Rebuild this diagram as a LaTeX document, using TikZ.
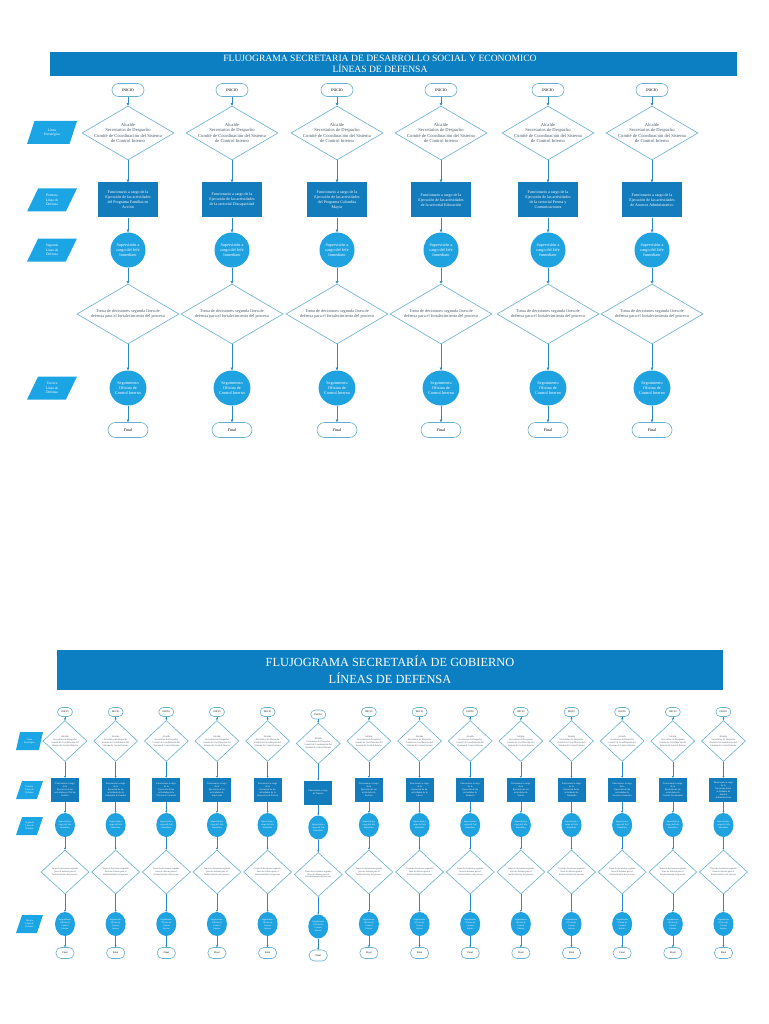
\documentclass[tikz,border=0pt]{standalone}
\usepackage{fontspec}
\setmainfont{Liberation Serif}
\usetikzlibrary{shapes.geometric,arrows.meta}
\definecolor{barblue}{HTML}{0B7FC1}
\definecolor{boxblue}{HTML}{137CBC}
\definecolor{circblue}{HTML}{1FA2E0}
\definecolor{lineblue}{HTML}{66AFD0}
\definecolor{arrblue}{HTML}{2A8AC6}
\definecolor{paralblue}{HTML}{1CA5E5}
\definecolor{diatextcol}{HTML}{4A5A66}
\tikzset{
  titlebar/.style={fill=barblue, draw=none, inner sep=0pt},
  titletext/.style={text=white, align=center, inner sep=0pt},
  startbox/.style={draw=lineblue, line width=0.6pt, fill=white, inner sep=0pt, align=center},
  diabox/.style={diamond, draw=lineblue, line width=0.6pt, fill=white, inner sep=0pt},
  diatext/.style={align=center, inner sep=0pt, text=diatextcol},
  taskbox/.style={rectangle, fill=boxblue, text=white, inner sep=0.5pt, align=center},
  supbox/.style={ellipse, fill=circblue, text=white, inner sep=0pt, align=center},
  sidelabel/.style={trapezium, trapezium left angle=66, trapezium right angle=114, trapezium stretches=true, fill=paralblue, text=white, inner sep=0pt, align=center},
  flow/.style={draw=arrblue, line width=0.5pt, -{Triangle[length=2.6pt,width=2.6pt]}},
  flowsm/.style={draw=arrblue, line width=0.4pt, -{Triangle[length=1.8pt,width=1.8pt]}}
}
\begin{document}
\begin{tikzpicture}[x=1pt,y=-1pt]
\useasboundingbox (0,0) rectangle (768,1024);
\fill[white] (0,0) rectangle (768,1024);

% ================= TOP PANEL =================
\node[titlebar, minimum width=687pt, minimum height=24pt] (bar1) at (393.5,64) {};
\node[titletext, font=\fontsize{9.6}{11.5}\selectfont] (title1) at (380,64)
  {FLUJOGRAMA SECRETARIA DE DESARROLLO SOCIAL Y ECONOMICO\\LÍNEAS DE DEFENSA};

\node[sidelabel, minimum width=50pt, minimum height=23pt, font=\fontsize{3.6}{4.4}\selectfont] (tl1) at (52,132.5) {Línea\\Estratégica};
\node[sidelabel, minimum width=50pt, minimum height=23pt, font=\fontsize{3.6}{4.4}\selectfont] (tl2) at (52,200) {Primera\\Línea de\\Defensa};
\node[sidelabel, minimum width=50pt, minimum height=23pt, font=\fontsize{3.6}{4.4}\selectfont] (tl3) at (52,250) {Segunda\\Línea de\\Defensa};
\node[sidelabel, minimum width=50pt, minimum height=23pt, font=\fontsize{3.6}{4.4}\selectfont] (tl4) at (52,388) {Tercera\\Línea de\\Defensa};

\foreach \x/\t [count=\i] in {
  128/{Funcionario a cargo de la\\Ejecución de las actividades\\del Programa Familias en\\Acción},
  232/{Funcionario a cargo de la\\Ejecución de las actividades\\de la sectorial Discapacidad},
  337/{Funcionario a cargo de la\\Ejecución de las actividades\\del Programa Colombia\\Mayor},
  441/{Funcionario a cargo de la\\Ejecución de las actividades\\de la sectorial Educación},
  548/{Funcionario a cargo de la\\Ejecución de las actividades\\de la sectorial Prensa y\\Comunicaciones},
  652/{Funcionario a cargo de la\\Ejecución de las actividades\\de Asuntos Administrativo}}{
  \node[startbox, rounded corners=6.5pt, minimum width=32pt, minimum height=13pt, font=\fontsize{3.8}{4.5}\selectfont] (ts\i) at (\x,90) {INICIO};
  \node[diabox, minimum width=92pt, minimum height=54pt] (td\i) at (\x,133) {};
  \node[diatext, font=\fontsize{4.6}{5.6}\selectfont] (tdt\i) at (\x,133)
    {Alcalde\\Secretarios de Despacho\\Comité de Coordinación del Sistema\\de Control Interno};
  \node[taskbox, minimum width=60pt, minimum height=35pt, font=\fontsize{4}{5}\selectfont] (tr\i) at (\x,200) {\t};
  \node[supbox, minimum width=35pt, minimum height=35pt, font=\fontsize{4.2}{5}\selectfont] (tc\i) at (\x,250)
    {Supervisión a\\cargo del Jefe\\Inmediato};
  \node[diabox, minimum width=102pt, minimum height=60pt] (te\i) at (\x,314) {};
  \node[diatext, font=\fontsize{4.3}{5.3}\selectfont] (tet\i) at (\x,314)
    {Toma de decisiones segunda línea de\\defensa para el fortalecimiento del proceso};
  \node[supbox, minimum width=35pt, minimum height=35pt, font=\fontsize{4.2}{5}\selectfont] (tg\i) at (\x,388)
    {Seguimiento\\Oficina de\\Control Interno};
  \node[startbox, rounded corners=7.5pt, minimum width=40pt, minimum height=15pt, font=\fontsize{4}{5}\selectfont] (tf\i) at (\x,430) {Final};
  \draw[flow] (ts\i) -- (td\i);
  \draw[flow] (td\i) -- (tr\i);
  \draw[flow] (tr\i) -- (tc\i);
  \draw[flow] (tc\i) -- (te\i);
  \draw[flow] (te\i) -- (tg\i);
  \draw[flow] (tg\i) -- (tf\i);
}

% ================= BOTTOM PANEL =================
\node[titlebar, minimum width=666pt, minimum height=40pt] (bar2) at (390,670) {};
\node[titletext, font=\fontsize{12.4}{17}\selectfont] (title2) at (390,670)
  {FLUJOGRAMA SECRETARÍA DE GOBIERNO\\LÍNEAS DE DEFENSA};

\node[sidelabel, minimum width=27pt, minimum height=18pt, font=\fontsize{2.4}{3}\selectfont] (bl1) at (29.5,741) {Línea\\Estratégica};
\node[sidelabel, minimum width=27pt, minimum height=18pt, font=\fontsize{2.4}{3}\selectfont] (bl2) at (29.5,790) {Primera\\Línea de\\Defensa};
\node[sidelabel, minimum width=27pt, minimum height=18pt, font=\fontsize{2.4}{3}\selectfont] (bl3) at (29.5,826) {Segunda\\Línea de\\Defensa};
\node[sidelabel, minimum width=27pt, minimum height=18pt, font=\fontsize{2.4}{3}\selectfont] (bl4) at (29.5,924) {Tercera\\Línea de\\Defensa};

\foreach \t [count=\i from 0] in {
  {Funcionario a cargo\\de la\\Ejecución de las\\actividades en Oficina\\Jurídica},
  {Funcionario a cargo\\de la\\Ejecución de las\\actividades de la\\Comisaría de Familia},
  {Funcionario a cargo\\de la\\Ejecución de las\\actividades de la\\Oficina de Vivienda},
  {Funcionario a cargo\\de la\\Ejecución de las\\actividades de\\Inspección},
  {Funcionario a cargo\\de la\\Ejecución de las\\actividades de la\\Inspección de Policía},
  {Funcionario a cargo\\de Tránsito},
  {Funcionario a cargo\\de la\\Ejecución de las\\actividades de\\Archivo},
  {Funcionario a cargo\\de la\\Ejecución de las\\actividades de la\\Cárcel},
  {Funcionario a cargo\\de la\\Ejecución de las\\actividades de\\Almacén},
  {Funcionario a cargo\\de la\\Ejecución de las\\actividades de\\Sisbén},
  {Funcionario a cargo\\de la\\Ejecución de las\\actividades de\\Ventanilla},
  {Funcionario a cargo\\de la\\Ejecución de las\\actividades de\\Servicios Generales},
  {Funcionario a cargo\\de la\\Ejecución de las\\actividades de\\Gestión Documental},
  {Funcionario a cargo\\de la\\Ejecución de las\\actividades de\\Asuntos\\Administrativos}}{
  \pgfmathsetmacro{\x}{65+50.65*\i}
  \pgfmathsetmacro{\dy}{ifthenelse(\i==5,2.5,0)}
  \node[startbox, rounded corners=4.5pt, minimum width=15pt, minimum height=9pt, font=\fontsize{2.4}{3}\selectfont] (bs\i) at (\x,{712+\dy}) {INICIO};
  \node[diabox, minimum width=44pt, minimum height=41pt] (bd\i) at (\x,{741+\dy}) {};
  \node[diatext, font=\fontsize{2.4}{3}\selectfont] (bdt\i) at (\x,{741+\dy})
    {Alcalde\\Secretarios de Despacho\\Comité de Coordinación del\\Sistema de Control Interno};
  \node[taskbox, minimum width=28pt, minimum height=24pt, font=\fontsize{2.4}{3}\selectfont] (br\i) at (\x,{790+\dy}) {\t};
  \node[supbox, minimum width=20pt, minimum height=24pt, font=\fontsize{2.3}{2.9}\selectfont] (bc\i) at (\x,{825+\dy})
    {Supervisión a\\cargo del Jefe\\Inmediato};
  \node[diabox, minimum width=48pt, minimum height=44pt] (be\i) at (\x,{872+\dy}) {};
  \node[diatext, font=\fontsize{2.3}{2.9}\selectfont] (bet\i) at (\x,{872+\dy})
    {Toma de decisiones segunda\\línea de defensa para el\\fortalecimiento del proceso};
  \node[supbox, minimum width=20pt, minimum height=24pt, font=\fontsize{2.3}{2.9}\selectfont] (bg\i) at (\x,{924+\dy})
    {Seguimiento\\Oficina de\\Control\\Interno};
  \node[startbox, rounded corners=5pt, minimum width=18pt, minimum height=11pt, font=\fontsize{2.6}{3}\selectfont] (bf\i) at (\x,{953+\dy}) {Final};
  \draw[flowsm] (bs\i) -- (bd\i);
  \draw[flowsm] (bd\i) -- (br\i);
  \draw[flowsm] (br\i) -- (bc\i);
  \draw[flowsm] (bc\i) -- (be\i);
  \draw[flowsm] (be\i) -- (bg\i);
  \draw[flowsm] (bg\i) -- (bf\i);
}
\end{tikzpicture}
\end{document}
